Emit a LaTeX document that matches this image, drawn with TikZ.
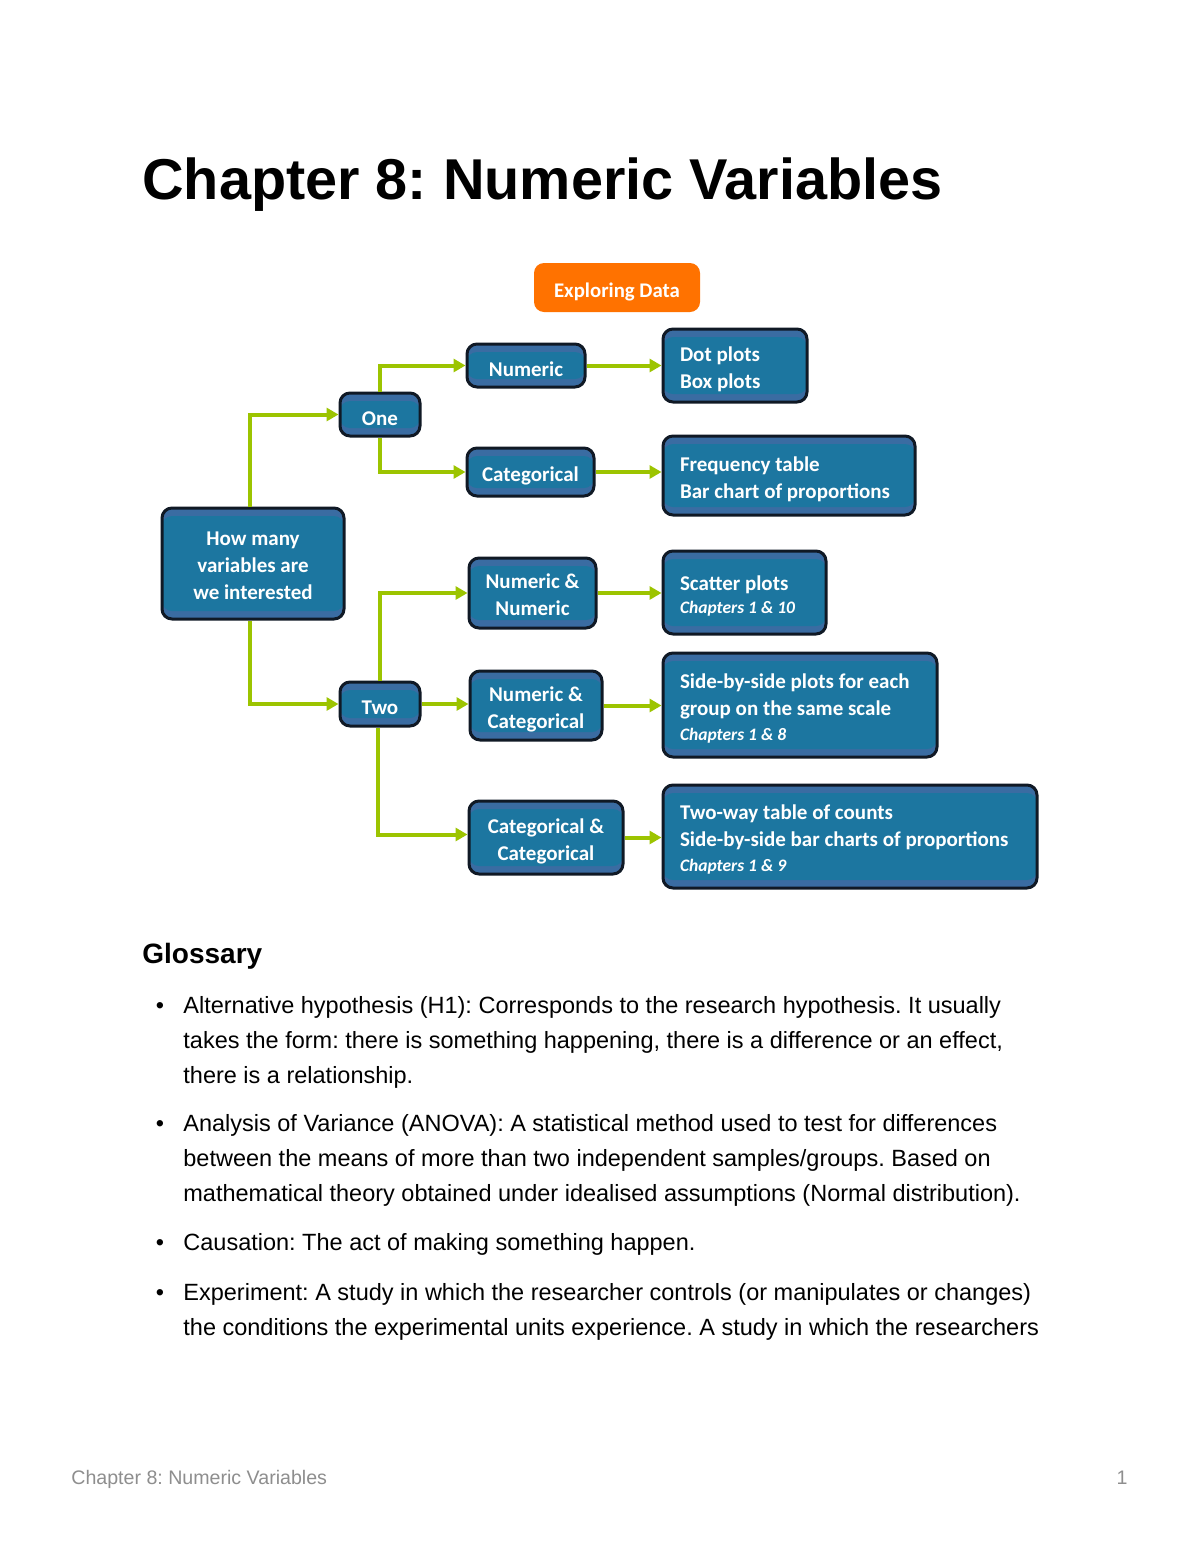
\documentclass[tikz,border=0pt]{standalone}
\usepackage{fontspec}
\setmainfont{Liberation Sans}
\newfontfamily\carl{Carlito}
\usetikzlibrary{arrows.meta}
\frenchspacing
\definecolor{boxmain}{HTML}{1C76A0}
\definecolor{boxband}{HTML}{3A6CA2}
\definecolor{boxline}{HTML}{101925}
\definecolor{conn}{HTML}{9CC400}
\definecolor{orng}{HTML}{FF7200}
\definecolor{foot}{HTML}{8E8E8E}
\newcommand\dn[1]{\raisebox{-2pt}[\height][\depth]{#1}}
\newcommand\rlines[2]{\dn{\makebox[#1][l]{\begin{tabular}{@{}l@{}}#2\end{tabular}}}}
\newcommand\clines[1]{\dn{\begin{tabular}{@{}c@{}}#1\end{tabular}}}
\newcommand\chap[1]{{\fontsize{8.75}{10}\selectfont\itshape #1}}
\tikzset{
  bbox/.style={draw=boxline, line width=1.5pt, rounded corners=5pt, fill=boxband,
    path picture={\fill[boxmain] ([yshift=-4pt]path picture bounding box.north west) rectangle ([yshift=4pt]path picture bounding box.south east);},
    text=white, font=\carl\bfseries\fontsize{10.5}{13.5}\selectfont, inner xsep=0pt, inner ysep=0pt},
  rbox/.style={bbox, inner xsep=8.5pt},
  cn/.style={draw=conn, line width=2pt, -{Triangle[length=6pt,width=6.5pt]}},
  body/.style={anchor=base west, inner sep=0pt, font=\fontsize{11.75}{17.5}\selectfont},
  bul/.style={anchor=base, inner sep=0pt, font=\fontsize{11.75}{17.5}\selectfont}
}
\begin{document}
\begin{tikzpicture}[x=0.5pt,y=-0.5pt]
\useasboundingbox (0,0) rectangle (1200,1553);
\fill[white] (0,0) rectangle (1200,1553);

\node[anchor=base west, inner sep=0pt, font=\bfseries\fontsize{28.8}{35}\selectfont] (title) at (142,199) {Chapter 8: Numeric Variables};

% diagram
\node[fill=orng, rounded corners=5pt, text=white, minimum width=83pt, minimum height=24.5pt, inner sep=0pt, font=\carl\bfseries\fontsize{10.4}{13}\selectfont] (explore) at (617,287.5) {\dn{Exploring Data}};

\node[bbox, minimum width=91pt, minimum height=55.5pt] (how) at (253,563.5) {\clines{How many\\variables are\\we interested}};
\node[bbox, minimum width=40pt, minimum height=21.5pt] (one) at (380,414.5) {\dn{One}};
\node[bbox, minimum width=40pt, minimum height=22pt] (two) at (380,704) {\dn{Two}};

\node[bbox, minimum width=59pt, minimum height=21.5pt] (num) at (526,365.5) {\dn{Numeric}};
\node[bbox, minimum width=63.5pt, minimum height=24pt] (cat) at (530.5,472) {\dn{Categorical}};
\node[bbox, minimum width=63.5pt, minimum height=35pt] (nn) at (532.5,593) {\clines{Numeric \&\\Numeric}};
\node[bbox, minimum width=66pt, minimum height=34.5pt] (nc) at (536,705.5) {\clines{Numeric \&\\Categorical}};
\node[bbox, minimum width=77pt, minimum height=36.5pt] (cc) at (546,837.5) {\clines{Categorical \&\\Categorical}};

\node[rbox, minimum height=36.5pt] (dot) at (735,365.5) {\rlines{55pt}{Dot plots\\Box plots}};
\node[rbox, minimum height=39.5pt] (freq) at (789,475.5) {\rlines{109pt}{Frequency table\\Bar chart of proportions}};
\node[rbox, minimum height=41.5pt] (scat) at (744.5,592.5) {\rlines{64.5pt}{Scatter plots\\[-2pt]\chap{Chapters 1 \& 10}}};
\node[rbox, minimum height=52pt] (side) at (800,705) {\rlines{120pt}{Side-by-side plots for each\\group on the same scale\\[-1pt]\chap{Chapters 1 \& 8}}};
\node[rbox, minimum height=51.5pt] (tway) at (850,836.5) {\rlines{170pt}{Two-way table of counts\\Side-by-side bar charts of proportions\\[-1pt]\chap{Chapters 1 \& 9}}};

\draw[cn] ([xshift=-1.5pt]how.north) |- (one.west);
\draw[cn] ([xshift=-1.5pt]how.south) |- (two.west);
\draw[cn] (one.north) |- (num.west);
\draw[cn] (one.south) |- (cat.west);
\draw[cn] (two.north) |- (nn.west);
\draw[cn] (two.east) -- (two.east -| nc.west);
\draw[cn] ([xshift=-1pt]two.south) |- ([yshift=1.5pt]cc.west);
\draw[cn] (num.east) -- (num.east -| dot.west);
\draw[cn] (cat.east) -- (cat.east -| freq.west);
\draw[cn] (nn.east) -- (nn.east -| scat.west);
\draw[cn] (nc.east) -- (nc.east -| side.west);
\draw[cn] (cc.east) -- (cc.east -| tway.west);

% glossary
\node[anchor=base west, inner sep=0pt, font=\bfseries\fontsize{14}{17}\selectfont] (gloss) at (142,963) {Glossary};

\node[bul] (b1) at (160,1013) {•};
\node[body] (l11) at (183,1013) {Alternative hypothesis (H1): Corresponds to the research hypothesis. It usually};
\node[body] (l12) at (183,1048) {takes the form: there is something happening, there is a difference or an effect,};
\node[body] (l13) at (183,1083) {there is a relationship.};

\node[bul] (b2) at (160,1131) {•};
\node[body] (l21) at (183,1131) {Analysis of Variance (ANOVA): A statistical method used to test for differences};
\node[body] (l22) at (183,1166) {between the means of more than two independent samples/groups. Based on};
\node[body] (l23) at (183,1201) {mathematical theory obtained under idealised assumptions (Normal distribution).};

\node[bul] (b3) at (160,1250) {•};
\node[body] (l31) at (183,1250) {Causation: The act of making something happen.};

\node[bul] (b4) at (160,1300) {•};
\node[body] (l41) at (183,1300) {Experiment: A study in which the researcher controls (or manipulates or changes)};
\node[body] (l42) at (183,1335) {the conditions the experimental units experience. A study in which the researchers};

% footer
\node[anchor=base west, inner sep=0pt, text=foot, font=\fontsize{9.8}{12}\selectfont] (foottxt) at (71,1484) {Chapter 8: Numeric Variables};
\node[anchor=base east, inner sep=0pt, text=foot, font=\fontsize{9.8}{12}\selectfont] (pagenum) at (1128,1484) {1};
\end{tikzpicture}
\end{document}
